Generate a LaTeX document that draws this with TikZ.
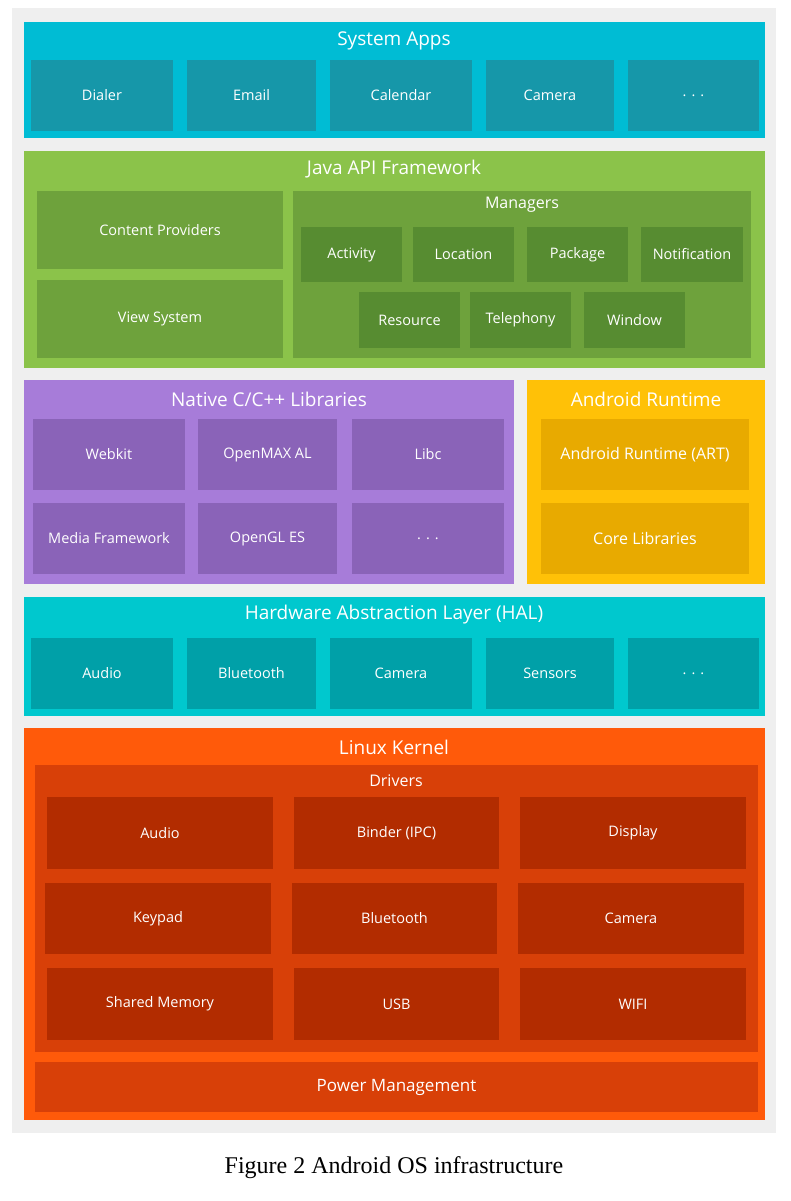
\documentclass[tikz,border=0pt]{standalone}
\usepackage{fontspec}
\setmainfont{Liberation Serif}
\newfontfamily\boxfont{Open Sans}
\usepackage{tikz}

\definecolor{bgGray}{HTML}{EFEFEF}
\definecolor{appsCyan}{HTML}{00BCD4}
\definecolor{appsBox}{HTML}{1697A9}
\definecolor{javaGreen}{HTML}{8BC34A}
\definecolor{javaPanel}{HTML}{6EA23C}
\definecolor{javaBox}{HTML}{578C31}
\definecolor{nativePurple}{HTML}{A77CD9}
\definecolor{nativeBox}{HTML}{8A63B8}
\definecolor{rtAmber}{HTML}{FFC107}
\definecolor{rtBox}{HTML}{E8AA00}
\definecolor{halCyan}{HTML}{00C8CE}
\definecolor{halBox}{HTML}{00A0A8}
\definecolor{kernOrange}{HTML}{FF5A0A}
\definecolor{kernPanel}{HTML}{D84008}
\definecolor{kernBox}{HTML}{B22C00}

\tikzset{
  layer/.style={draw=none,inner sep=0pt,outer sep=0pt},
  ttl/.style={text=white,font=\boxfont\fontsize{19}{22}\selectfont},
  lbl/.style={text=white,font=\boxfont\fontsize{14.5}{17}\selectfont}
}
% block from (x1,y1) to (x2,y2), filled, with centred label
\newcommand{\blk}[7]{%
  \fill[#6] (#2,#3) rectangle (#4,#5);
  \node[lbl] (#1) at ({(#2+#4)/2},{(#3+#5)/2}) {#7};}

\begin{document}
\begin{tikzpicture}[x=1pt,y=-1pt]
\useasboundingbox (0,0) rectangle (790,1201);
\fill[bgGray] (12,8) rectangle (776,1133);

% System Apps
\fill[appsCyan] (24,22) rectangle (765,138);
\node[ttl] (apps) at (394,41) {System Apps};
\foreach \n/\a/\b/\t in {dialer/31/173/Dialer,email/187/316/Email,calendar/330/472/Calendar,camera/486/614/Camera,more/628/759/. . .}
  {\blk{app-\n}{\a}{60}{\b}{131}{appsBox}{\t}}

% Java API Framework
\fill[javaGreen] (24,151) rectangle (765,368);
\node[ttl] (java) at (394,169) {Java API Framework};
\blk{content}{37}{191}{283}{269}{javaPanel}{Content Providers}
\blk{view}{37}{280}{283}{358}{javaPanel}{View System}
\fill[javaPanel] (293,191) rectangle (751,358);
\node[lbl,font=\boxfont\fontsize{16}{19}\selectfont] (managers) at (522,205) {Managers};
\foreach \n/\a/\b in {Activity/301/402,Location/413/514,Package/527/628,Notification/641/743}
  {\blk{mgr-\n}{\a}{227}{\b}{282}{javaBox}{\n}}
\foreach \n/\a/\b in {Resource/359/460,Telephony/470/571,Window/584/685}
  {\blk{mgr-\n}{\a}{292}{\b}{348}{javaBox}{\n}}

% Native C/C++ Libraries
\fill[nativePurple] (24,380) rectangle (514,584);
\node[ttl] (native) at (269,399) {Native C/C++ Libraries};
\blk{webkit}{33}{419}{185}{490}{nativeBox}{Webkit}
\blk{openmax}{198}{419}{337}{490}{nativeBox}{OpenMAX AL}
\blk{libc}{352}{419}{504}{490}{nativeBox}{Libc}
\blk{media}{33}{503}{185}{574}{nativeBox}{Media Framework}
\blk{opengl}{198}{503}{337}{574}{nativeBox}{OpenGL ES}
\blk{nmore}{352}{503}{504}{574}{nativeBox}{. . .}

% Android Runtime
\fill[rtAmber] (527,380) rectangle (765,584);
\node[ttl] (runtime) at (646,399) {Android Runtime};
\blk{art}{541}{419}{749}{490}{rtBox}{\fontsize{16}{19}\selectfont Android Runtime (ART)}
\blk{core}{541}{503}{749}{574}{rtBox}{\fontsize{16}{19}\selectfont Core Libraries}

% HAL
\fill[halCyan] (24,597) rectangle (765,716);
\node[ttl] (hal) at (394,615) {Hardware Abstraction Layer (HAL)};
\foreach \n/\a/\b/\t in {audio/31/173/Audio,bt/187/316/Bluetooth,camera/330/472/Camera,sensors/486/614/Sensors,more/628/759/. . .}
  {\blk{hal-\n}{\a}{638}{\b}{709}{halBox}{\t}}

% Linux Kernel
\fill[kernOrange] (24,728) rectangle (765,1120);
\node[ttl] (kernel) at (394,747) {Linux Kernel};
\fill[kernPanel] (35,765) rectangle (758,1052);
\node[lbl,font=\boxfont\fontsize{16}{19}\selectfont] (drivers) at (396,781) {Drivers};
\foreach \n/\a/\b/\t in {audio/47/273/Audio,binder/294/499/Binder (IPC),display/520/746/Display}
  {\blk{drv-\n}{\a}{797}{\b}{869}{kernBox}{\t}}
\foreach \n/\a/\b/\t in {keypad/45/271/Keypad,bt/292/497/Bluetooth,camera/518/744/Camera}
  {\blk{drv-\n}{\a}{883}{\b}{954}{kernBox}{\t}}
\foreach \n/\a/\b/\t in {shm/47/273/Shared Memory,usb/294/499/USB,wifi/520/746/WIFI}
  {\blk{drv-\n}{\a}{968}{\b}{1040}{kernBox}{\t}}
\blk{power}{35}{1062}{758}{1112}{kernPanel}{\fontsize{17}{20}\selectfont Power Management}

% caption
\node[font=\fontsize{24}{28}\selectfont] (caption) at (394,1168) {Figure 2 Android OS infrastructure};
\end{tikzpicture}
\end{document}
